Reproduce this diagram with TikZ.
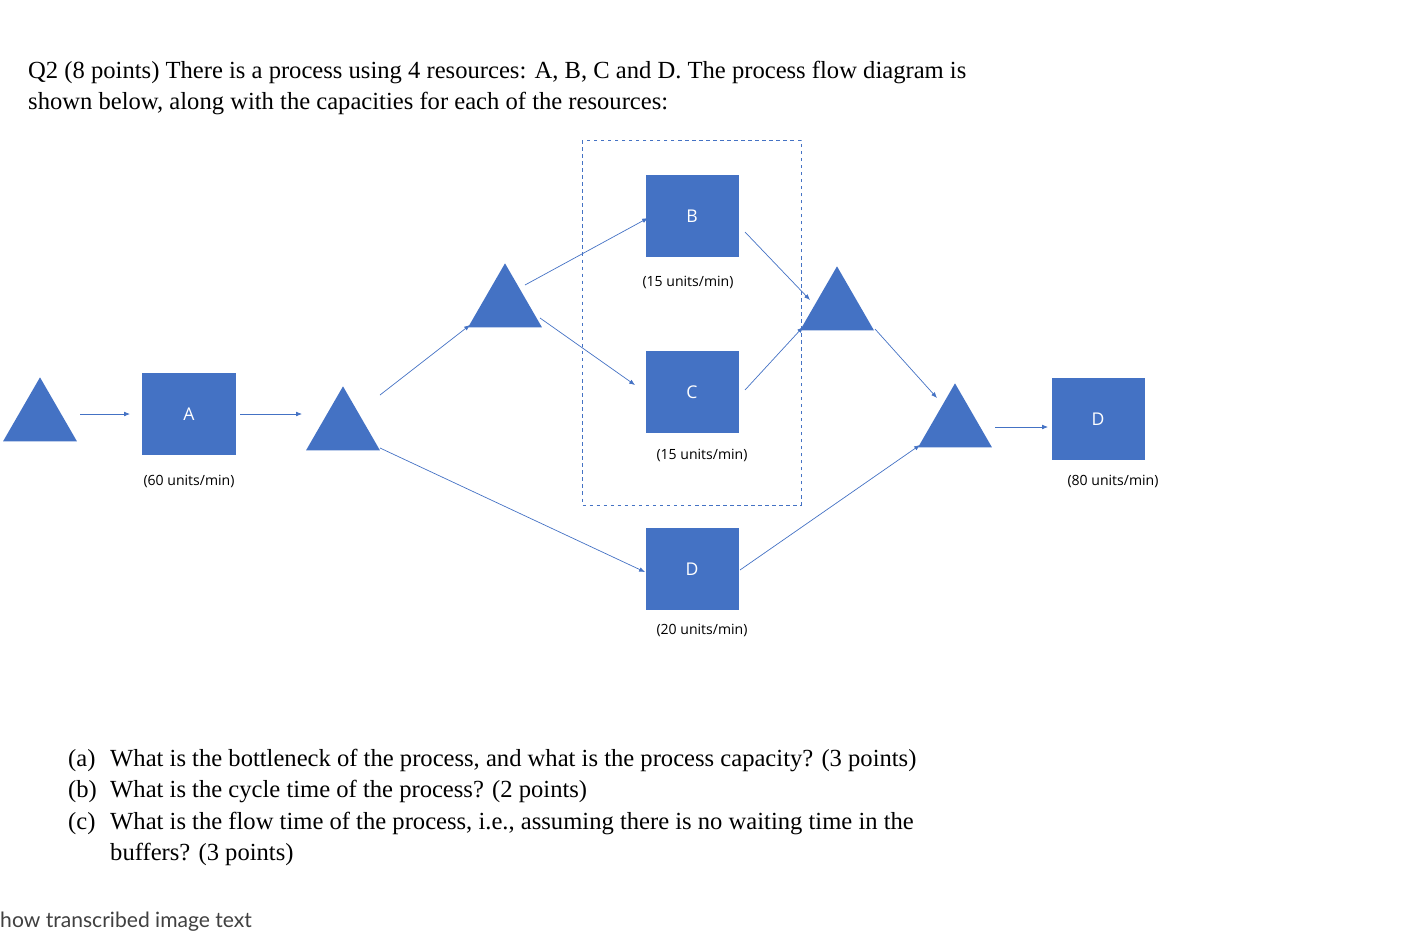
\documentclass[tikz,border=0pt]{standalone}
\usepackage{fontspec}
\setmainfont{Liberation Serif}
\setsansfont{Open Sans}
\newfontfamily\latofont{Lato}
\usetikzlibrary{shapes.geometric,arrows.meta}
\definecolor{bl}{HTML}{4472C4}
\begin{document}
\begin{tikzpicture}[x=0.03cm,y=-0.03cm,
  tri/.style={regular polygon,regular polygon sides=3,fill=bl,draw=none,minimum size=2.56cm,inner sep=0pt},
  box/.style={rectangle,fill=bl,draw=none,minimum width=2.79cm,minimum height=2.46cm,text=white,font=\sffamily\fontsize{15}{18}\selectfont},
  caplbl/.style={font=\sffamily\fontsize{12}{14}\selectfont},
  txt/.style={anchor=base west,inner sep=0pt,font=\fontsize{21}{25}\selectfont},
  con/.style={draw=bl,line width=0.6pt,-{Latex[length=5pt,width=4pt]}}]
\useasboundingbox (0,0) rectangle (1416,950);
\node[txt] (t1) at (28,78) {Q2 (8 points) There is a process using 4 resources: A, B, C and D. The process flow diagram is};
\node[txt] (t2) at (28,109) {shown below, along with the capacities for each of the resources:};
\draw[bl,dashed,line width=0.7pt] (582,140) rectangle (801,505);
\node[tri] (T0) at (40,420) {};
\node[tri] (T1) at (343,429) {};
\node[tri] (T2) at (505,306) {};
\node[tri] (T3) at (837,309) {};
\node[tri] (T4) at (955,426) {};
\node[box] (A) at (189,414) {A};
\node[box] (B) at (692,216) {B};
\node[box] (C) at (692,392) {C};
\node[box] (D) at (692,569) {D};
\node[box] (D2) at (1098,419) {D};
\node[caplbl] (lA) at (189,481) {(60 units/min)};
\node[caplbl] (lB) at (688,282) {(15 units/min)};
\node[caplbl] (lC) at (702,455) {(15 units/min)};
\node[caplbl] (lD) at (702,630) {(20 units/min)};
\node[caplbl] (lD2) at (1113,481) {(80 units/min)};
\coordinate (a1) at (80,414); \coordinate (a2) at (130,414);
\coordinate (b1) at (240,414); \coordinate (b2) at (302,414);
\coordinate (c1) at (380,395); \coordinate (c2) at (470,325);
\coordinate (d1) at (525,285); \coordinate (d2) at (648,218);
\coordinate (e1) at (540,318); \coordinate (e2) at (635,385);
\coordinate (f1) at (380,448); \coordinate (f2) at (645,572);
\coordinate (g1) at (745,232); \coordinate (g2) at (810,300);
\coordinate (h1) at (745,390); \coordinate (h2) at (803,327);
\coordinate (i1) at (875,329); \coordinate (i2) at (937,398);
\coordinate (j1) at (740,570); \coordinate (j2) at (920,445);
\coordinate (k1) at (995,427); \coordinate (k2) at (1048,427);
\foreach \s in {a,b,c,d,e,f,g,h,i,j,k}{\draw[con] (\s1) -- (\s2);}
\node[txt] (qa) at (68,766) {(a)};
\node[txt] (qat) at (110,766) {What is the bottleneck of the process, and what is the process capacity? (3 points)};
\node[txt] (qb) at (68,797) {(b)};
\node[txt] (qbt) at (110,797) {What is the cycle time of the process? (2 points)};
\node[txt] (qc) at (68,829) {(c)};
\node[txt] (qct) at (110,829) {What is the flow time of the process, i.e., assuming there is no waiting time in the};
\node[txt] (qct2) at (110,860) {buffers? (3 points)};
\node[anchor=base west,inner sep=0pt,text=black!75,font=\latofont\fontsize{18}{22}\selectfont] (sh) at (0,927) {how transcribed image text};
\end{tikzpicture}
\end{document}
